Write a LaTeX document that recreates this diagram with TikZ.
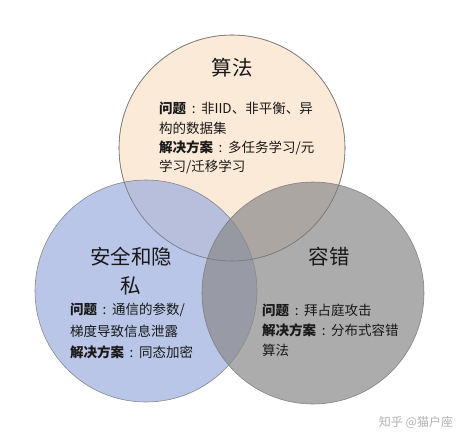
\documentclass[tikz,border=0pt]{standalone}
\usepackage{fontspec}
\setmainfont{Noto Sans CJK SC}
\newcommand{\cln}{\makebox[1.1em]{:}}
\begin{document}
\begin{tikzpicture}[x=1pt,y=-1pt,
  circ/.style={draw=black!55,line width=0.6pt,fill opacity=0.7,draw opacity=0.8},
  title/.style={font=\fontsize{20.5}{22}\selectfont,text=black!90,inner sep=0pt},
  body/.style={font=\fontsize{13.5}{15}\selectfont,text=black!90,inner sep=0pt,anchor=west}]
\definecolor{peach}{RGB}{252,226,201}
\definecolor{blu}{RGB}{156,174,222}
\definecolor{gry}{RGB}{138,138,138}
\useasboundingbox (0,0) rectangle (474,440);
\fill[white] (0,0) rectangle (474,440);
\fill[peach,circ] (232,148) circle (113);
\fill[blu,circ] (146,291) circle (111);
\fill[gry,circ] (313,293) circle (111);
\draw[circ,fill opacity=0] (232,148) circle (113);
% top circle
\node[title] (t1) at (232,68) {算法};
\node[body] (t2) at (159,108) {\textbf{问题}\cln 非IID、非平衡、异};
\node[body] (t3) at (159,128) {构的数据集};
\node[body] (t4) at (159,148) {\textbf{解决方案}\cln 多任务学习/元};
\node[body] (t5) at (159,167) {学习/迁移学习};
% left circle
\node[title] (l1) at (131,257) {安全和隐};
\node[title] (l2) at (131,286) {私};
\node[body] (l3) at (70,310) {\textbf{问题}\cln 通信的参数/};
\node[body] (l4) at (70,331) {梯度导致信息泄露};
\node[body] (l5) at (70,352) {\textbf{解决方案}\cln 同态加密};
% right circle
\node[title] (r1) at (329,257) {容错};
\node[body] (r2) at (262,310) {\textbf{问题}\cln 拜占庭攻击};
\node[body] (r3) at (262,330) {\textbf{解决方案}\cln 分布式容错};
\node[body] (r4) at (262,350) {算法};
% watermark
\node[font=\fontsize{12}{14}\selectfont,text=black!30,inner sep=0pt] (wm) at (416,422) {知乎 @猫户座};
\end{tikzpicture}
\end{document}
